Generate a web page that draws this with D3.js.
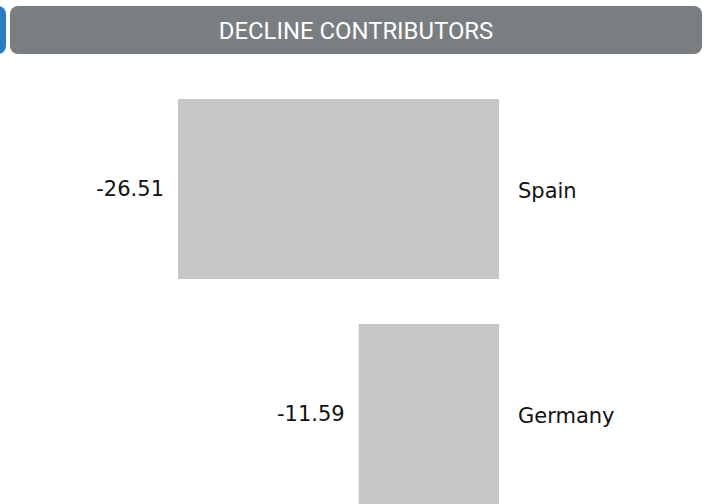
<!DOCTYPE html>
<html>
<head>
<meta charset="utf-8">
<script src="https://cdn.jsdelivr.net/npm/d3@7"></script>
<style>
  html, body { margin: 0; padding: 0; background: #ffffff; overflow: hidden; }
  svg { display: block; }
</style>
</head>
<body>
<svg id="chart" width="708" height="504"></svg>
<script>
// Countries pulling the total down, and their contribution
const countries = ["Spain", "Germany"];
const contributions = [-26.51, -11.59];
const title = "DECLINE CONTRIBUTORS";

const W = 708, H = 504;
const svg = d3.select("#chart");

// Header: blue tab at the left edge and the grey title banner
svg.append("rect")
  .attr("x", -20).attr("y", 6)
  .attr("width", 26).attr("height", 48)
  .attr("rx", 8).attr("ry", 8)
  .attr("fill", "#2b7bbf");

svg.append("rect")
  .attr("x", 10).attr("y", 6)
  .attr("width", 692).attr("height", 48)
  .attr("rx", 8).attr("ry", 8)
  .attr("fill", "#7b7e81");

svg.append("text")
  .attr("x", 356).attr("y", 38.5)
  .attr("text-anchor", "middle")
  .attr("font-family", "Roboto, sans-serif")
  .attr("font-size", 23.9)
  .attr("fill", "#ffffff")
  .text(title);

// Scales: bars grow leftwards from the zero line
const x = d3.scaleLinear()
  .domain([d3.min(contributions), 0])
  .range([178, 499]);

const y = d3.scaleBand()
  .domain(countries)
  .range([76.5, 526.5])
  .paddingInner(0.2)
  .paddingOuter(0.1);

const rows = countries.map((c, i) => ({ name: c, value: contributions[i] }));

const g = svg.append("g");

g.selectAll("rect.bar")
  .data(rows)
  .join("rect")
  .attr("class", "bar")
  .attr("x", d => x(d.value))
  .attr("y", d => y(d.name))
  .attr("width", d => x(0) - x(d.value))
  .attr("height", y.bandwidth())
  .attr("fill", "#c6c6c6");

// Value labels to the left of each bar
g.selectAll("text.value")
  .data(rows)
  .join("text")
  .attr("class", "value")
  .attr("x", d => x(d.value) - 14)
  .attr("y", d => y(d.name) + y.bandwidth() / 2 + 7)
  .attr("text-anchor", "end")
  .attr("font-family", "DejaVu Sans, sans-serif")
  .attr("font-size", 21)
  .attr("fill", "#111111")
  .text(d => d.value.toFixed(2));

// Country names to the right of the zero line
g.selectAll("text.name")
  .data(rows)
  .join("text")
  .attr("class", "name")
  .attr("x", x(0) + 19)
  .attr("y", d => y(d.name) + y.bandwidth() / 2 + 8.5)
  .attr("text-anchor", "start")
  .attr("font-family", "DejaVu Sans, sans-serif")
  .attr("font-size", 21)
  .attr("fill", "#111111")
  .text(d => d.name);
</script>
</body>
</html>
